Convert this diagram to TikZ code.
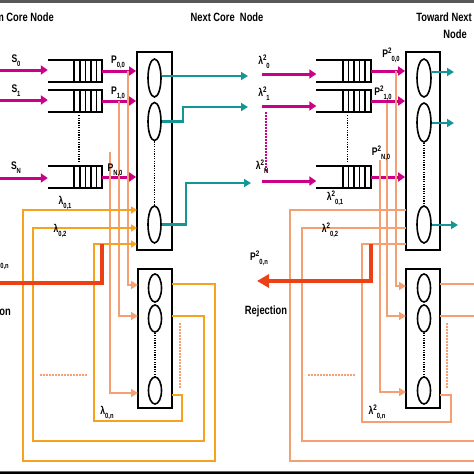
\documentclass[tikz,border=0pt]{standalone}
\usepackage{fontspec}
\setmainfont{Liberation Sans}[FakeStretch=0.78]
\usetikzlibrary{arrows.meta,shapes.geometric}
\definecolor{mag}{RGB}{204,0,136}
\definecolor{tl}{RGB}{20,150,150}
\definecolor{org}{RGB}{245,162,30}
\definecolor{slm}{RGB}{245,160,115}
\definecolor{rej}{RGB}{235,65,20}
\newcommand\lb[3]{#1\raisebox{3.8pt}{\fontsize{8}{8}\selectfont\bfseries #2}\raisebox{-3.8pt}{\fontsize{7.5}{8}\selectfont\bfseries #3}}
\newcommand\drawqueue[1]{%
  \draw[qline] (#1.north west) -- (#1.north east) -- (#1.south east) -- (#1.south west);
  \foreach \xx in {28,22.4,16.8,11.2,5.6} \draw[qline] ([xshift=-\xx pt]#1.north east) -- ([xshift=-\xx pt]#1.south east);}
\begin{document}
\begin{tikzpicture}[x=1pt,y=-1pt,
  font=\fontsize{11}{12}\selectfont\bfseries,
  title/.style={font=\fontsize{12}{14}\selectfont\bfseries, inner sep=0pt},
  lab/.style={inner sep=0pt},
  queue/.style={minimum width=54pt, minimum height=22pt, inner sep=0pt},
  qline/.style={draw=black, line width=1.6pt},
  swbox/.style={draw, line width=1.8pt, inner sep=0pt},
  ell/.style={draw, ellipse, line width=1.6pt, inner sep=0pt},
  bdots/.style={draw=black, line width=1.6pt, dash pattern=on 1.2pt off 1.2pt},
  sdots/.style={draw=slm, line width=1.5pt, dash pattern=on 1.5pt off 1.5pt},
  mdots/.style={draw=mag, line width=1.5pt, dash pattern=on 1.5pt off 1.5pt},
  magarr/.style={draw=mag, line width=3pt, -{Triangle[length=7pt,width=9pt]}},
  tealarr/.style={draw=tl, line width=2.5pt, -{Triangle[length=7pt,width=8pt]}},
  orgline/.style={draw=org, line width=2pt},
  orgarr/.style={orgline, -{Triangle[length=6pt,width=7pt]}},
  slmline/.style={draw=slm, line width=2pt},
  slmarr/.style={slmline, -{Triangle[length=7pt,width=8pt]}},
  rejarr/.style={draw=rej, line width=4pt, -{Triangle[length=12pt,width=13pt]}}
]
\useasboundingbox (0,0) rectangle (474,474);
\fill[white] (0,0) rectangle (474,474);
\fill[black!65] (0,0) rectangle (474,2.5);
\fill[black!60] (0,471) rectangle (474,472);
\fill[black] (0,472) rectangle (474,474);

% ---------- titles ----------
\node[title, anchor=east] (tFrom) at (54,17) {From Core Node};
\node[title] (tNext) at (227,17) {Next Core\ \ Node};
\node[title, anchor=east] (tToward) at (472,17) {Toward Next};
\node[title] (tNode) at (455,34) {Node};

% ================= LEFT =================
\node[queue] (LQ0) at (75,71) {};
\node[queue] (LQ1) at (75,101) {};
\node[queue] (LQN) at (75,177) {};
\drawqueue{LQ0}\drawqueue{LQ1}\drawqueue{LQN}
\draw[bdots, shorten <=3pt, shorten >=4pt] ([xshift=4pt]LQ1.south) -- ([xshift=4pt]LQN.north);

\coordinate (LS0) at (0,70);
\coordinate (LS1) at (0,100);
\coordinate (LSN) at (0,178);
\draw[magarr] (LS0) -- (LS0 -| LQ0.west);
\draw[magarr] (LS1) -- (LS1 -| LQ1.west);
\draw[magarr] (LSN) -- (LSN -| LQN.west);

\node[swbox, minimum width=35pt, minimum height=198pt] (LB) at (154.5,151) {};
\node[swbox, minimum width=34pt, minimum height=139pt] (LL) at (155,338.5) {};

\draw[magarr] (LQ0.east) -- (LQ0.east -| LB.west);
\draw[magarr] (LQ1.east) -- (LQ1.east -| LB.west);
\draw[magarr] (LQN.east) -- (LQN.east -| LB.west);

% salmon branches
\coordinate (LP0) at (128,71);
\coordinate (LP1) at (119,101);
\coordinate (LPN) at (110,152);
\coordinate (LAin) at (138,285);
\coordinate (LBin) at (138,316);
\coordinate (LCin) at (138,393);
\draw[slmarr] (LP0) |- (LAin);
\draw[slmarr] (LP1) |- (LBin);
\draw[slmarr] (LPN) |- (LCin);

% orange loops
\coordinate (LO1) at (172,284);
\coordinate (LO2) at (172,316);
\coordinate (LO3) at (172,395);
\coordinate (LI1) at (137,210);
\coordinate (LI2) at (137,228);
\coordinate (LI3) at (137,244);
\draw[orgarr] (LO1) -| (215,461) -| (23,210) -- (LI1);
\draw[orgarr] (LO2) -| (204,441) -| (33,228) -- (LI2);
\draw[orgarr] (LO3) -| (182,421) -| (94,244) -- (LI3);

% rejection
\coordinate (LR0) at (102,244);
\coordinate (LRj) at (-14,283);
\draw[rejarr] (LR0) -- (102,283) -- (LRj);

\draw[sdots] (180,323) -- (180,388);
\draw[sdots] (40,375) -- (88,375);

\node[ell, minimum width=13pt, minimum height=38pt] (LE1) at (154.5,78) {};
\node[ell, minimum width=13pt, minimum height=38pt] (LE2) at (154.5,121.5) {};
\node[ell, minimum width=13pt, minimum height=37pt] (LE3) at (154.5,224.5) {};
\draw[bdots] (LE2.south) -- (LE3.north);
\node[ell, minimum width=13pt, minimum height=28pt] (LA) at (155,288) {};
\node[ell, minimum width=13pt, minimum height=27pt] (LBb) at (155,318.5) {};
\node[ell, minimum width=13pt, minimum height=27pt] (LC) at (155,390.5) {};
\draw[bdots] (LBb.south) -- (LC.north);

\coordinate (LT1) at (248,76);
\coordinate (LT2) at (248,107);
\coordinate (LT3) at (251,183);
\draw[tealarr] (LE1.east |- LT1) -- (LT1);
\draw[tealarr] (LE2.east) -- ++(21,0) |- (LT2);
\draw[tealarr] (LE3.east) -- ++(24,0) |- (LT3);

\node[lab] (lS0) at (16,61) {\lb{S}{}{0}};
\node[lab] (lS1) at (16,91) {\lb{S}{}{1}};
\node[lab] (lSN) at (16,168) {\lb{S}{}{N}};
\node[lab] (lP00) at (118,62) {\lb{P}{}{0,0}};
\node[lab] (lP10) at (118,93) {\lb{P}{}{1,0}};
\node[lab] (lPN0) at (115,170) {\lb{P}{}{N,0}};
\node[lab] (ll01) at (65,203) {\lb{λ}{}{0,1}};
\node[lab] (ll02) at (60,231) {\lb{λ}{}{0,2}};
\node[lab] (ll0n) at (107,413) {\lb{λ}{}{0,n}};
\node[lab, anchor=east] (lP0n) at (9,263) {\lb{P}{}{0,n}};
\node[lab, anchor=east, font=\fontsize{12}{13}\selectfont\bfseries] (lRej) at (11,312) {Rejection};

% ================= RIGHT =================
\node[queue] (RQ0) at (343.5,71) {};
\node[queue] (RQ1) at (343.5,101) {};
\node[queue] (RQN) at (343.5,177) {};
\drawqueue{RQ0}\drawqueue{RQ1}\drawqueue{RQN}
\draw[bdots, shorten <=3pt, shorten >=4pt] ([xshift=4pt]RQ1.south) -- ([xshift=4pt]RQN.north);

\coordinate (RS0) at (262,74);
\coordinate (RS1) at (262,106);
\coordinate (RSN) at (262,181);
\draw[magarr] (RS0) -- (RS0 -| RQ0.west);
\draw[magarr] (RS1) -- (RS1 -| RQ1.west);
\draw[magarr] (RSN) -- (RSN -| RQN.west);
\draw[mdots] (266,112) -- (266,172);

\node[swbox, minimum width=34pt, minimum height=198pt] (RB) at (423,151) {};
\node[swbox, minimum width=34pt, minimum height=139pt] (RL) at (423,338.5) {};

\draw[magarr] (RQ0.east) -- (RQ0.east -| RB.west);
\draw[magarr] (RQ1.east) -- (RQ1.east -| RB.west);
\draw[magarr] (RQN.east) -- (RQN.east -| RB.west);

\coordinate (RP0) at (396,71);
\coordinate (RP1) at (387,103);
\coordinate (RPN) at (380,160);
\coordinate (RAin) at (406,286);
\coordinate (RBin) at (406,316);
\coordinate (RCin) at (406,392);
\draw[slmarr] (RP0) |- (RAin);
\draw[slmarr] (RP1) |- (RBin);
\draw[slmarr] (RPN) |- (RCin);

\coordinate (RO1) at (440,284);
\coordinate (RO2) at (440,316);
\coordinate (RO3) at (440,395);
\coordinate (RI1) at (406,210);
\coordinate (RI2) at (406,228);
\coordinate (RI3) at (406,244);
\draw[slmline] (RO1) -| (490,461) -| (290,210) -- (RI1);
\draw[slmline] (RO2) -| (484,441) -| (302,228) -- (RI2);
\draw[slmline] (RO3) -| (451,422) -| (362,244) -- (RI3);

\coordinate (RR0) at (371,244);
\coordinate (RRj) at (257,281);
\draw[rejarr] (RR0) -- (371,281) -- (RRj);

\draw[sdots] (447,323) -- (447,388);
\draw[sdots] (308,375) -- (356,375);

\node[ell, minimum width=14pt, minimum height=38pt] (RE1) at (424,78) {};
\node[ell, minimum width=14pt, minimum height=39pt] (RE2) at (424,122.5) {};
\node[ell, minimum width=14pt, minimum height=37pt] (RE3) at (424,224.5) {};
\draw[bdots] (RE2.south) -- (RE3.north);
\node[ell, minimum width=13pt, minimum height=28pt] (RA) at (424,288) {};
\node[ell, minimum width=13pt, minimum height=27pt] (RBb) at (424,318.5) {};
\node[ell, minimum width=13pt, minimum height=27pt] (RC) at (424,390.5) {};
\draw[bdots] (RBb.south) -- (RC.north);

\coordinate (RT1) at (454,72);
\coordinate (RT2) at (454,123);
\coordinate (RT3) at (458,225);
\draw[tealarr] (RE1.east |- RT1) -- (RT1);
\draw[tealarr] (RE2.east |- RT2) -- (RT2);
\draw[tealarr] (RE3.east |- RT3) -- (RT3);

\node[lab] (rl0) at (264,62) {\lb{λ}{2}{0}};
\node[lab] (rl1) at (264,94) {\lb{λ}{2}{1}};
\node[lab] (rlN) at (262,167) {\lb{λ}{2}{N}};
\node[lab] (rP00) at (391,55) {\lb{P}{2}{0,0}};
\node[lab] (rP10) at (383,93) {\lb{P}{2}{1,0}};
\node[lab] (rPN0) at (381,153) {\lb{P}{2}{N,0}};
\node[lab] (rl01) at (335,198) {\lb{λ}{2}{0,1}};
\node[lab] (rl02) at (330,230) {\lb{λ}{2}{0,2}};
\node[lab] (rl0n) at (377,412) {\lb{λ}{2}{0,n}};
\node[lab] (rP0n) at (259,258) {\lb{P}{2}{0,n}};
\node[lab, font=\fontsize{12}{13}\selectfont\bfseries] (rRej) at (266,311) {Rejection};
\end{tikzpicture}
\end{document}
